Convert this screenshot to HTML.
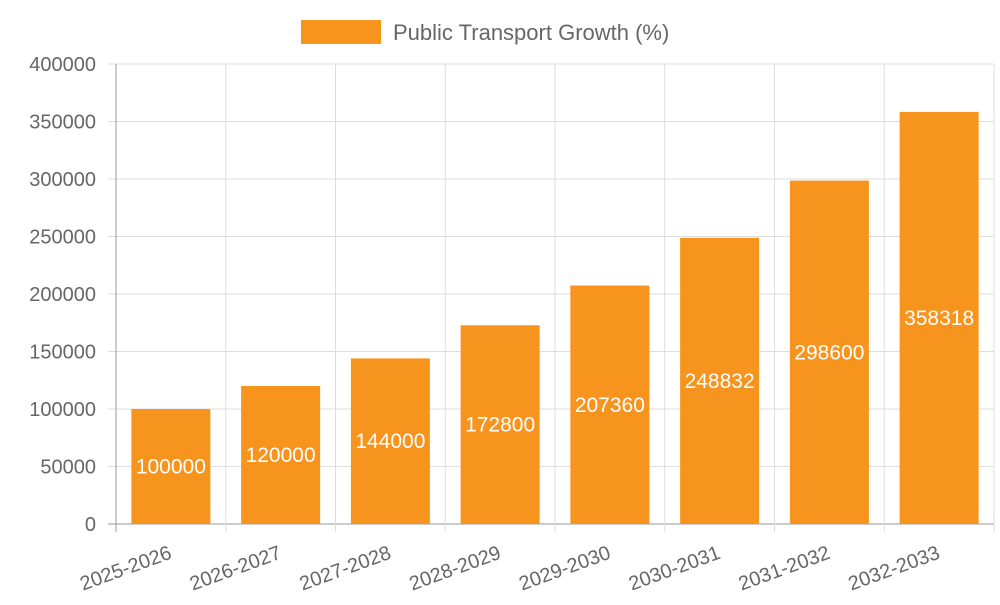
<!DOCTYPE html>
<html><head><meta charset="utf-8"><style>
body{margin:0;background:#fff;}
svg{font-family:"Liberation Sans",sans-serif;}
</style></head><body>
<svg id="chart" width="1000" height="600">
<g id="grid"></g>
<g id="bars"></g>
<g id="labels"></g>
<g>
<rect x="301" y="20" width="80" height="24" fill="#F7941D"/>
<text x="393" y="40" font-size="22" fill="#666">Public Transport Growth (%)</text>
</g>
</svg>
<script>
const categories=["2025-2026","2026-2027","2027-2028","2028-2029","2029-2030","2030-2031","2031-2032","2032-2033"];
const values=[100000,120000,144000,172800,207360,248832,298600,358318];
const yTicks=[0,50000,100000,150000,200000,250000,300000,350000,400000];
const L=116,R=994,T=64,B=524,yMax=400000;
const NS="http://www.w3.org/2000/svg";
const bw=(R-L)/categories.length;
function y(v){return B-(v/yMax)*(B-T);}
function x(i){return L+bw*i;}
function mk(tag,attrs,parent){const e=document.createElementNS(NS,tag);for(const k in attrs)e.setAttribute(k,attrs[k]);parent.appendChild(e);return e;}
const grid=document.getElementById('grid'),bars=document.getElementById('bars'),labels=document.getElementById('labels');
yTicks.forEach(t=>{
 const l=mk('line',{x1:L-8,x2:R,y1:y(t),y2:y(t),stroke:t===0?'#999':'#ddd','stroke-width':1},grid);
 
 
 const tx=mk('text',{x:L-20,y:y(t)+7,'text-anchor':'end','font-size':20,fill:'#666'},grid);
 tx.textContent=t;
 
 
});
for(let i=0;i<=categories.length;i++){
 const l=mk('line',{x1:x(i),x2:x(i),y1:T,y2:B+8,stroke:i===0?'#999':'#ddd','stroke-width':1},grid);
 
 
}
categories.forEach((c,i)=>{
 const cx=x(i)+bw/2,w=79;
 const r=mk('rect',{x:cx-w/2,y:y(values[i]),width:w,height:B-y(values[i]),fill:'#F7941D'},bars);
 
 
 const vt=mk('text',{x:cx,y:(y(values[i])+B)/2+7,'text-anchor':'middle','font-size':21,fill:'#fff'},labels);
 vt.textContent=values[i];
 
 
 const xt=mk('text',{x:0,y:0,'text-anchor':'end','font-size':20,fill:'#666',transform:`translate(${cx+2},${B+34}) rotate(-20)`},labels);
 xt.textContent=c;
 
 
});
</script>
</body></html>
